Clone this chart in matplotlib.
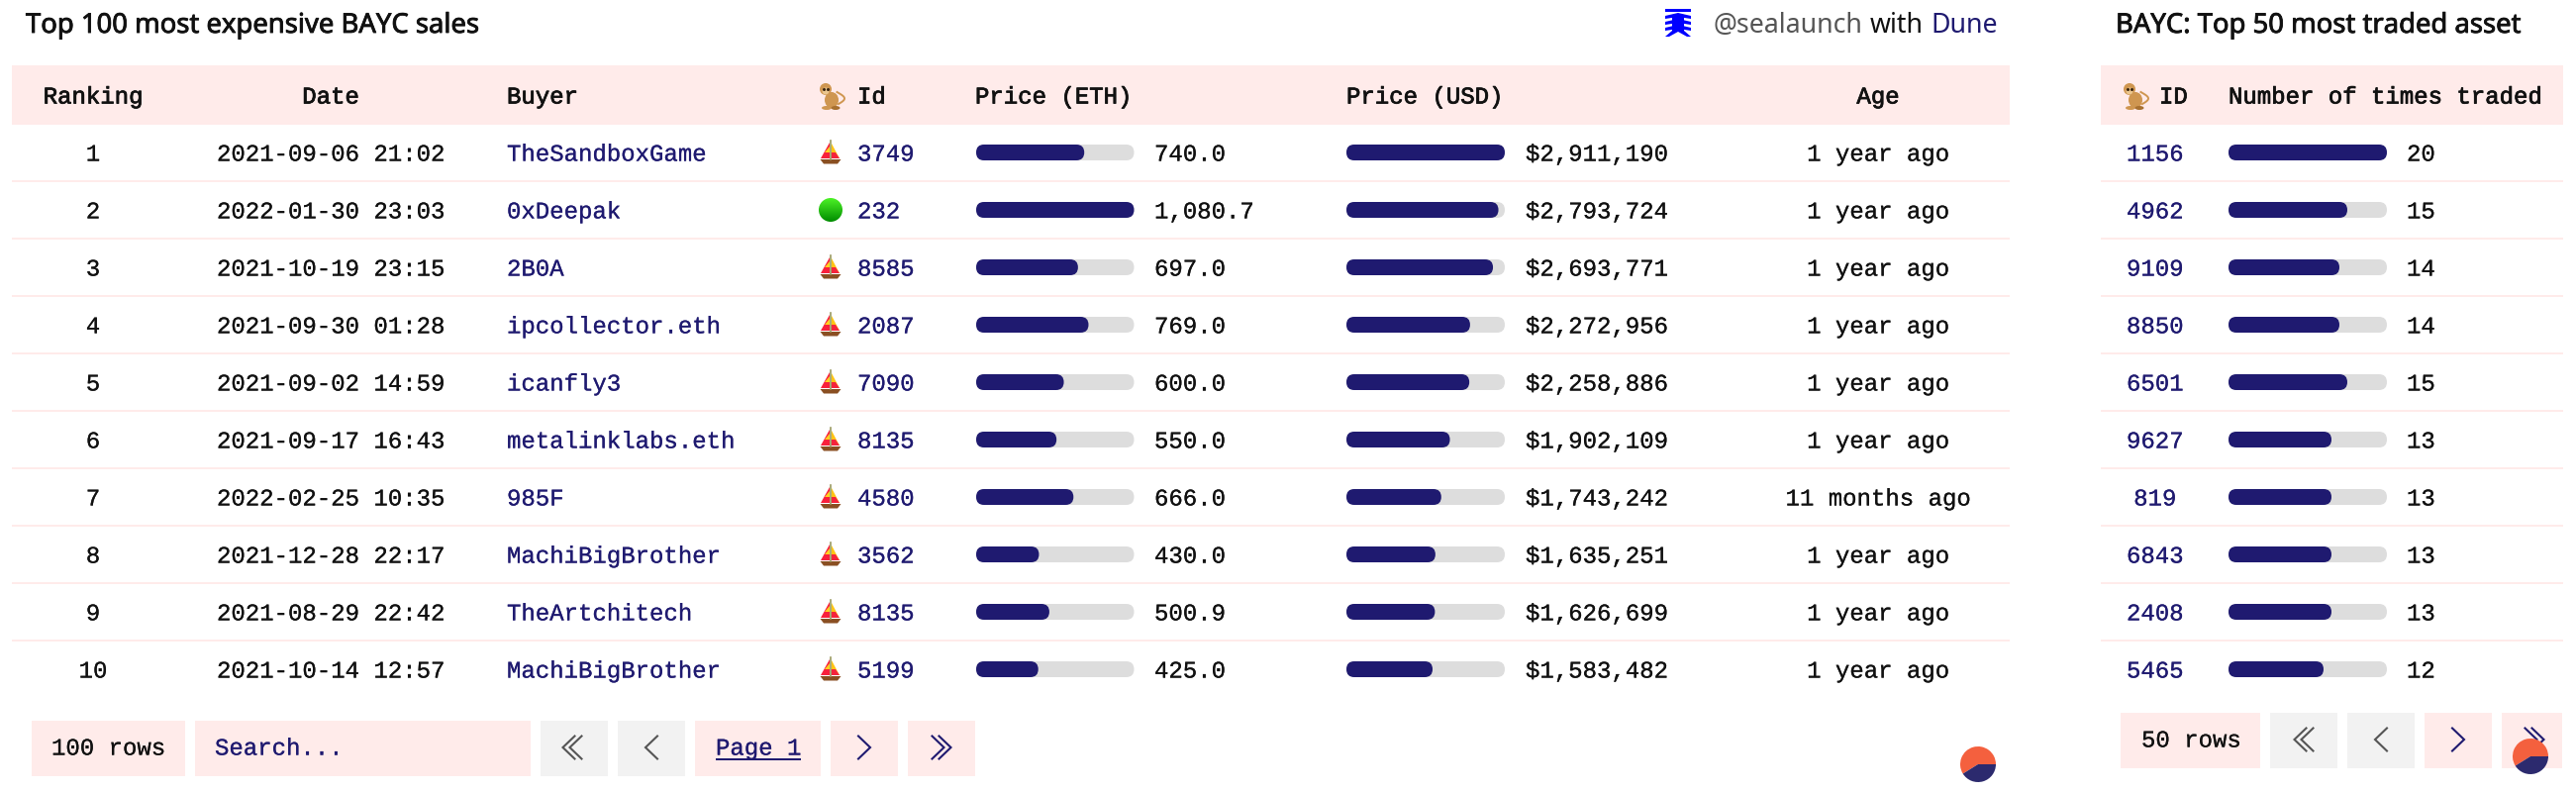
import numpy as np
import matplotlib
matplotlib.use("Agg")
import matplotlib.pyplot as plt
from matplotlib.patches import FancyBboxPatch, Rectangle, Wedge, Polygon, Circle, Ellipse
import matplotlib.patheffects as pe

# ---- data ----
rankings = [1, 2, 3, 4, 5, 6, 7, 8, 9, 10]
dates = ["2021-09-06 21:02", "2022-01-30 23:03", "2021-10-19 23:15", "2021-09-30 01:28",
         "2021-09-02 14:59", "2021-09-17 16:43", "2022-02-25 10:35", "2021-12-28 22:17",
         "2021-08-29 22:42", "2021-10-14 12:57"]
buyers = ["TheSandboxGame", "0xDeepak", "2B0A", "ipcollector.eth", "icanfly3",
          "metalinklabs.eth", "985F", "MachiBigBrother", "TheArtchitech", "MachiBigBrother"]
token_ids = [3749, 232, 8585, 2087, 7090, 8135, 4580, 3562, 8135, 5199]
token_marks = ["boat", "dot", "boat", "boat", "boat", "boat", "boat", "boat", "boat", "boat"]
price_eth = [740.0, 1080.7, 697.0, 769.0, 600.0, 550.0, 666.0, 430.0, 500.9, 425.0]
price_usd = [2911190, 2793724, 2693771, 2272956, 2258886, 1902109, 1743242, 1635251, 1626699, 1583482]
ages = ["1 year ago"] * 6 + ["11 months ago"] + ["1 year ago"] * 3

traded_ids = [1156, 4962, 9109, 8850, 6501, 9627, 819, 6843, 2408, 5465]
traded_counts = [20, 15, 14, 14, 15, 13, 13, 13, 13, 12]

# ---- style ----
MONO = "Liberation Mono"
SANS = "Noto Sans"
PINK = "#FFEBEA"
NAVY = "#1F1A70"
TRACK = "#DDDDDD"
GREY = "#F2F2F2"
INK = "#111111"
FS = 24 * 0.72
ROW0, PITCH = 155, 58

fig = plt.figure(figsize=(26.02, 8), dpi=100, facecolor="white")
ax = fig.add_axes([0, 0, 1, 1])
ax.set_xlim(0, 2602)
ax.set_ylim(800, 0)
ax.axis("off")


def mono(x, y, s, color=INK, ha="left", bold=False):
    t = ax.text(x, y, s, family=MONO, fontsize=FS, color=color, ha=ha, va="baseline")
    t.set_path_effects([pe.withStroke(linewidth=0.55 if bold else 0.15, foreground=color)])
    return t


def rect(x0, x1, y0, y1, color, z=1):
    ax.add_patch(Rectangle((x0, y0), x1 - x0, y1 - y0, fc=color, ec="none", zorder=z))


def pill(x, cy, w, color, z=2, h=16):
    r = min(h / 2, w / 2)
    ax.add_patch(FancyBboxPatch((x, cy - h / 2), w, h, boxstyle=f"round,pad=0,rounding_size={r}",
                                fc=color, ec="none", zorder=z))


def bar(x, cy, frac, width=160):
    pill(x, cy, width, TRACK, 2)
    pill(x, cy, width * frac, NAVY, 3)


def monkey(cx, cy):
    brown, face = "#CF9650", "#EBC68E"
    t = np.linspace(0, 1, 30)
    ax.plot(cx + 8 + 6 * np.sin(t * 3.4), cy + 9 - 12 * t, color=brown, lw=1.4, zorder=4)
    ax.add_patch(Ellipse((cx + 1, cy + 5), 14, 16, fc=brown, ec="none", zorder=5))
    ax.add_patch(Ellipse((cx - 4, cy + 13), 10, 4, fc=brown, ec="none", zorder=5))
    ax.add_patch(Ellipse((cx + 5, cy + 13), 9, 4, fc="#A8702F", ec="none", zorder=5))
    ax.add_patch(Circle((cx - 5, cy - 6), 6, fc=brown, ec="none", zorder=6))
    ax.add_patch(Ellipse((cx - 5, cy - 4), 7, 7, fc=face, ec="none", zorder=7))
    ax.plot([cx - 7, cx - 3], [cy - 6, cy - 6], ls="none", marker="o", ms=1.2, color="#3A2510", zorder=8)


def boat(cx, cy):
    ax.add_patch(Polygon([[cx - 1.5, cy - 11], [cx - 1.5, cy + 5], [cx - 10, cy + 5]], fc="#F8203C", ec="none", zorder=4))
    ax.add_patch(Polygon([[cx - 1.5, cy - 7], [cx - 1.5, cy - 1], [cx - 6, cy - 1]], fc="#FFD21E", ec="none", zorder=5))
    ax.add_patch(Polygon([[cx + 0.5, cy - 10], [cx + 0.5, cy + 5], [cx + 9, cy + 5]], fc="#FFC414", ec="none", zorder=4))
    ax.add_patch(Polygon([[cx + 0.5, cy - 1], [cx + 0.5, cy + 5], [cx + 9, cy + 5], [cx + 5, cy - 1]], fc="#F4243C", ec="none", zorder=5))
    ax.plot([cx - 0.5, cx - 0.5], [cy - 13, cy + 6], color="#9A9A60", lw=1.2, zorder=6)
    ax.add_patch(Polygon([[cx - 10.5, cy + 6], [cx + 10.5, cy + 6], [cx + 7, cy + 10.5], [cx - 7, cy + 10.5]],
                         fc="#8A4F22", ec="none", zorder=5))


def green_dot(cx, cy, r=12):
    grad = np.linspace(0, 1, 64)[:, None]
    top, bot = np.array([0.30, 0.95, 0.15]), np.array([0.0, 0.55, 0.0])
    img = top[None, None, :] * (1 - grad[..., None]) + bot[None, None, :] * grad[..., None]
    im = ax.imshow(img, extent=(cx - r, cx + r, cy + r, cy - r), zorder=4, aspect="auto")
    im.set_clip_path(Circle((cx, cy), r, transform=ax.transData))


def chevrons(cx, cy, direction, n, color):
    for k in range(n):
        off = (k - (n - 1) / 2) * 7
        tip = cx + off + direction * 6
        ax.plot([tip - direction * 12, tip, tip - direction * 12], [cy - 11.5, cy, cy + 11.5],
                color=color, lw=1.5, zorder=4, solid_joinstyle="miter")


def dune_dot(cx, cy, r=18):
    ax.add_patch(Wedge((cx, cy), r, 148, 360, fc="#F4603E", ec="none", zorder=10))
    ax.add_patch(Wedge((cx, cy), r, 0, 148, fc="#2C2A6E", ec="none", zorder=10))


def logo():
    blue = "#0000FF"
    rect(1682, 1708, 9, 12, blue, 3)
    for y in (13, 19, 25):
        ax.add_patch(Polygon([[1695, y], [1708, y + 3], [1708, y + 6], [1695, y + 4],
                              [1682, y + 6], [1682, y + 3]], fc=blue, ec="none", zorder=3))
    ax.add_patch(Polygon([[1695, 14], [1701, 15], [1701, 31], [1708, 37], [1704, 37], [1695, 32],
                          [1686, 37], [1682, 37], [1689, 31], [1689, 15]],
                         fc=blue, ec="none", zorder=3))


# ---- titles ----
TITLE = dict(family=SANS, fontsize=19.75, va="baseline", color=INK,
             path_effects=[pe.withStroke(linewidth=0.6, foreground=INK)])
ax.text(26, 33, "Top 100 most expensive BAYC sales", **TITLE)
ax.text(2137, 33, "BAYC: Top 50 most traded asset", **TITLE)
logo()
SUB = dict(family=SANS, fontsize=19.2, va="baseline")
ax.text(1730, 33, "@sealaunch", color="#555555", **SUB)
ax.text(1889, 33, "with", color=INK, **SUB)
ax.text(1950, 33, "Dune", color=NAVY, **SUB)

# ---- left table ----
rect(12, 2030, 66, 126, PINK)
mono(94, 104.5, "Ranking", ha="center", bold=True)
mono(334, 104.5, "Date", ha="center", bold=True)
mono(512, 104.5, "Buyer", bold=True)
monkey(839, 96)
mono(866, 104.5, "Id", bold=True)
mono(985, 104.5, "Price (ETH)", bold=True)
mono(1360, 104.5, "Price (USD)", bold=True)
mono(1897, 104.5, "Age", ha="center", bold=True)

eth_max, usd_max = max(price_eth), max(price_usd)
for i in range(len(rankings)):
    cy = ROW0 + i * PITCH
    base = cy + 7.5
    if i < len(rankings) - 1:
        rect(12, 2030, cy + 27, cy + 29, PINK)
    mono(94, base, str(rankings[i]), ha="center")
    mono(219, base, dates[i])
    mono(512, base, buyers[i], color=NAVY)
    if token_marks[i] == "dot":
        green_dot(839, cy - 1)
    else:
        boat(839, cy)
    mono(866, base, str(token_ids[i]), color=NAVY)
    bar(986, cy - 1, price_eth[i] / eth_max, width=159.5)
    mono(1166, base, f"{price_eth[i]:,.1f}")
    bar(1360, cy - 1, price_usd[i] / usd_max)
    mono(1541, base, f"${price_usd[i]:,}")
    mono(1897, base, ages[i], ha="center")

# ---- right table ----
rect(2122, 2589, 66, 126, PINK)
monkey(2156, 96)
mono(2181, 104.5, "ID", bold=True)
mono(2251, 104.5, "Number of times traded", bold=True)
count_max = max(traded_counts)
for i in range(len(traded_ids)):
    cy = ROW0 + i * PITCH
    base = cy + 7.5
    if i < len(traded_ids) - 1:
        rect(2122, 2589, cy + 27, cy + 29, PINK)
    mono(2148 + (4 - len(str(traded_ids[i]))) * 7.2, base, str(traded_ids[i]), color=NAVY)
    bar(2251, cy - 1, traded_counts[i] / count_max)
    mono(2431, base, str(traded_counts[i]))

# ---- left pager ----
rect(32, 187, 728, 784, PINK)
mono(52, 762.5, "100 rows")
rect(197, 536, 728, 784, PINK)
mono(217, 762.5, "Search...", color=NAVY)
rect(546, 614, 728, 784, GREY)
chevrons(578, 755, -1, 2, "#555555")
rect(624, 692, 728, 784, GREY)
chevrons(658, 755, -1, 1, "#555555")
rect(702, 829, 728, 784, PINK)
mono(723, 762.5, "Page 1", color=NAVY)
rect(723, 809, 765.5, 767.5, NAVY, 3)
rect(839, 907, 728, 784, PINK)
chevrons(873, 755, 1, 1, NAVY)
rect(917, 985, 728, 784, PINK)
chevrons(951, 755, 1, 2, NAVY)
dune_dot(1998, 772)

# ---- right pager ----
rect(2142, 2283, 720, 776, PINK)
mono(2163, 754.5, "50 rows")
rect(2293, 2361, 720, 776, GREY)
chevrons(2327, 747, -1, 2, "#555555")
rect(2371, 2439, 720, 776, GREY)
chevrons(2405, 747, -1, 1, "#555555")
rect(2449, 2517, 720, 776, PINK)
chevrons(2483, 747, 1, 1, NAVY)
rect(2527, 2588, 720, 776, PINK)
chevrons(2560, 747, 1, 2, NAVY)
dune_dot(2556, 764)

ax.set_xlim(0, 2602)
ax.set_ylim(800, 0)
fig.savefig("out.png", dpi=100, facecolor="white")
